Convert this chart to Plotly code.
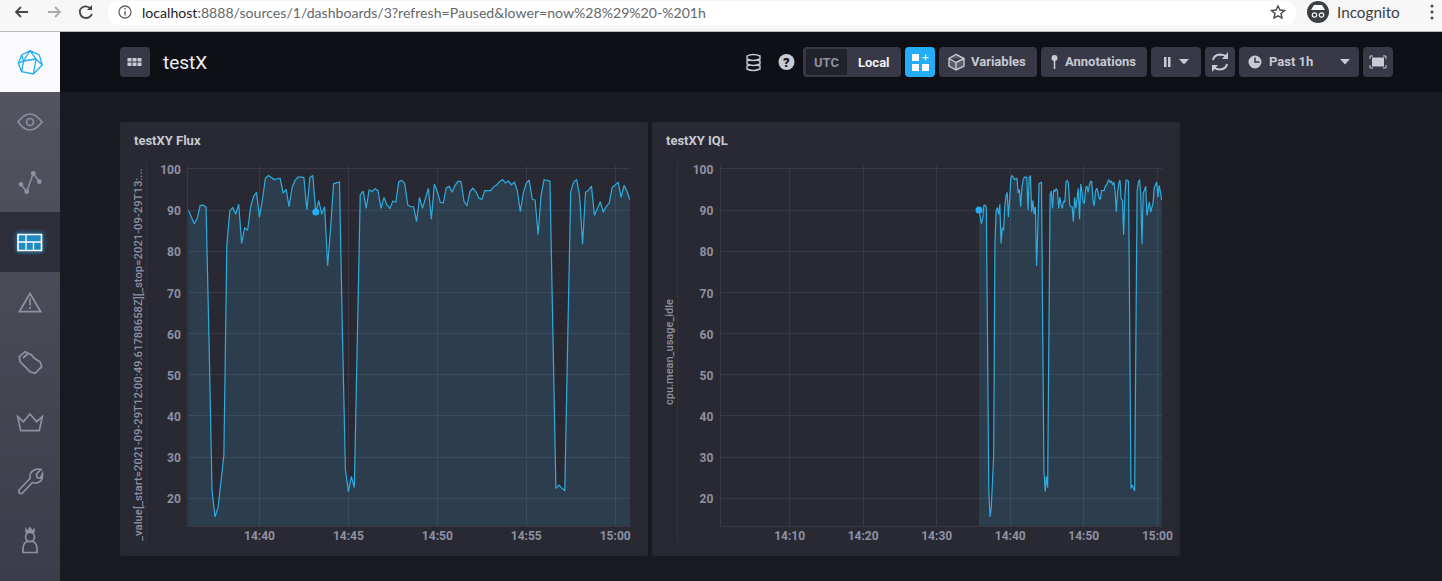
import re

import pandas as pd
import plotly.graph_objects as go

W, H = 1442, 581

# same cpu idle samples, the two panels only differ by a few seconds of time offset
cpu_idle = [
    90.0, 88.4, 86.7, 88.0, 91.1, 91.2, 90.7, 58.0, 22.0, 15.5,
    17.6, 24.0, 30.5, 81.5, 89.8, 90.6, 89.0, 91.4, 81.9, 85.7,
    85.1, 90.6, 93.3, 94.3, 88.3, 92.5, 97.7, 98.4, 98.0, 97.4,
    97.6, 97.7, 94.1, 95.0, 90.8, 95.5, 97.2, 98.0, 98.0, 97.9,
    90.0, 97.9, 98.4, 89.5, 92.3, 89.0, 90.8, 76.5, 85.6, 96.4,
    96.6, 96.8, 60.0, 27.0, 21.6, 25.3, 22.6, 56.0, 93.7, 94.6,
    90.4, 94.9, 94.5, 95.2, 94.7, 90.4, 93.1, 91.3, 90.4, 92.2,
    91.9, 96.9, 97.2, 96.5, 91.3, 90.8, 90.8, 87.2, 93.1, 90.4,
    92.7, 95.3, 87.8, 96.3, 94.5, 91.9, 91.7, 95.3, 95.8, 94.3,
    96.0, 97.0, 96.9, 92.2, 91.0, 94.5, 95.3, 94.5, 92.9, 92.6,
    94.7, 94.7, 94.7, 95.7, 96.1, 96.9, 97.4, 96.6, 97.1, 96.1,
    96.8, 94.7, 89.6, 94.1, 96.5, 97.3, 92.7, 92.4, 84.0, 93.6,
    97.3, 97.2, 97.0, 60.0, 22.4, 23.2, 22.6, 21.8, 59.0, 94.5,
    96.8, 97.4, 93.5, 81.7, 94.3, 94.8, 95.8, 88.7, 90.4, 92.0,
    89.5, 90.9, 91.7, 95.5, 96.1, 96.8, 93.1, 96.0, 94.5, 92.4,
]
flux_times = pd.date_range("2021-09-29 14:36:00", periods=len(cpu_idle), freq="10s")
iql_times = pd.date_range("2021-09-29 14:35:45", periods=len(cpu_idle), freq="10s")
flux_dot = 43
iql_dot = 0

flux_title = "testXY Flux"
iql_title = "testXY IQL"
flux_ylabel = "_value[_start=2021-09-29T12:00:49.61788658Z][_stop=2021-09-29T13:..."
iql_ylabel = "cpu.mean_usage_idle"

PANEL = "#292933"
GRID = "#383846"
TICK = "#8e91a1"
BLUE = "#22adf6"
BTN = "#383846"
LIGHT = "#c6cad3"
ICON = "#8e91a1"
FONT = "Roboto"


def fx(x):
    return x / W


def fy(y):
    return 1 - y / H


def to_paper(d):
    # path written in screen pixels, shapes want paper coordinates
    out = []
    is_x = True
    for tok in re.findall(r"[MLCQZ]|-?[\d.]+", d):
        if tok in "MLCQZ":
            out.append(tok)
            is_x = True
        else:
            out.append(f"{fx(float(tok)):.5f}" if is_x else f"{fy(float(tok)):.5f}")
            is_x = not is_x
    return " ".join(out)


shapes = []
notes = []


def path(d, fill="rgba(0,0,0,0)", line=None, width=1.5, layer="below"):
    shapes.append(dict(
        type="path", xref="paper", yref="paper", path=to_paper(d), fillcolor=fill, layer=layer,
        line=dict(color=line or "rgba(0,0,0,0)", width=width if line else 0),
    ))


def rect(x0, y0, x1, y1, fill):
    shapes.append(dict(
        type="rect", xref="paper", yref="paper", x0=fx(x0), x1=fx(x1), y0=fy(y0), y1=fy(y1),
        fillcolor=fill, line=dict(width=0), layer="below",
    ))


def rrect(x0, y0, x1, y1, fill, r=4):
    path(
        f"M {x0 + r} {y0} L {x1 - r} {y0} Q {x1} {y0} {x1} {y0 + r} L {x1} {y1 - r} Q {x1} {y1} {x1 - r} {y1} "
        f"L {x0 + r} {y1} Q {x0} {y1} {x0} {y1 - r} L {x0} {y0 + r} Q {x0} {y0} {x0 + r} {y0} Z",
        fill=fill,
    )


def circle(cx, cy, r, fill="rgba(0,0,0,0)", line=None, width=1.5):
    shapes.append(dict(
        type="circle", xref="paper", yref="paper", x0=fx(cx - r), x1=fx(cx + r), y0=fy(cy + r), y1=fy(cy - r),
        fillcolor=fill, layer="below", line=dict(color=line or "rgba(0,0,0,0)", width=width if line else 0),
    ))


def text(x, y, s, size=13, color=LIGHT, weight=400, anchor="left", angle=0, family=FONT):
    notes.append(dict(
        xref="paper", yref="paper", x=fx(x), y=fy(y), text=s, showarrow=False, xanchor=anchor, yanchor="middle",
        textangle=angle, font=dict(family=family, size=size, color=color, weight=weight),
        borderpad=0, borderwidth=0,
    ))


# page blocks
rect(0, 0, W, 31, "#f7f7f7")
rect(0, 31, W, 32, "#b9b9b9")
rect(60, 32, W, 92, "#0f0f16")
rect(0, 32, 60, 92, "#fafafc")
# sidebar gradient, shapes have no gradient fill so it is cut in thin strips
strips = 40
for k in range(strips):
    r = round(0x54 - (0x54 - 0x3c) * k / (strips - 1))
    b = round(0x60 - (0x60 - 0x4a) * k / (strips - 1))
    rect(0, 92 + k * 489 / strips, 60, 92 + (k + 1) * 489 / strips + 1, f"rgb({r},{r},{b})")
rect(0, 212, 60, 272, "#2e2e3a")

# panels
rrect(120, 122, 648, 556, PANEL, r=3)
rrect(652, 122, 1180, 556, PANEL, r=3)
rect(146, 162, 147, 542, "#32323e")
rect(677, 162, 678, 542, "#32323e")

# browser bar
rrect(108, 1, 1296, 25, "#ffffff", r=12)
path("M 28 12 L 16 12 M 21 7 L 16 12 L 21 17", line="#45484c", width=1.8)
path("M 48 12 L 60 12 M 55 7 L 60 12 L 55 17", line="#a9abad", width=1.8)
path("M 91 9 Q 87 5 83 7 Q 79 9 80 13 Q 81 18 86 18 Q 90 18 92 14", line="#45484c", width=1.8)
path("M 92 5 L 92 10 L 87 10 Z", fill="#45484c")
circle(125, 12, 6, line="#5f6368", width=1.3)
rect(124.3, 11, 125.7, 15.5, "#5f6368")
rect(124.3, 8, 125.7, 9.5, "#5f6368")
text(142, 12, '<span style="color:#202124">localhost</span>:8888/sources/1/dashboards/3?refresh=Paused&lower=now%28%29%20-%201h',
     size=14.1, color="#63666a", family="Lato")
path("M 1278 6 L 1280 10 L 1284.5 10.5 L 1281 13.5 L 1282 18 L 1278 15.8 L 1274 18 L 1275 13.5 L 1271.5 10.5 L 1276 10 Z",
     line="#45484c", width=1.4)
rrect(1304, 1, 1412, 24, "#f7f7f7", r=11)
circle(1318, 12, 11, fill="#3c4043")
path("M 1311 10 L 1325 10 L 1322 5 L 1314 5 Z", fill="#ffffff")
circle(1314.5, 15, 2.2, line="#ffffff", width=1.2)
circle(1321.5, 15, 2.2, line="#ffffff", width=1.2)
text(1337, 12, "Incognito", size=15.3, color="#3c4043", family="Lato")
for dot_y in (6, 12, 18):
    circle(1432, dot_y, 1.5, fill="#45484c")

# header controls
rrect(120, 47, 150, 77, BTN)
for bx in (129, 134, 139):
    rect(bx - 1.5, 58, bx + 2.5, 61.5, LIGHT)
    rect(bx - 1.5, 62.5, bx + 2.5, 66, LIGHT)
text(163, 62, "testX", size=19, color="#f0f1f4")

for cy in (67, 62, 57):
    path(f"M 747 {cy - 1} L 747 {cy + 2} Q 753 {cy + 5} 760 {cy + 2} L 760 {cy - 1} Q 753 {cy - 4} 747 {cy - 1} Z",
         line=LIGHT, width=1.4, fill="#0f0f16")
circle(786.5, 62, 8, fill=LIGHT)
text(786.5, 62, "?", size=13, color="#0f0f16", weight=900, anchor="center")

rrect(803, 47, 901, 77, BTN)
rrect(806, 49, 847, 75, "#22222b", r=2)
text(826, 62, "UTC", size=13, color=TICK, weight=700, anchor="center")
text(874, 62, "Local", size=13, color="#f0f1f4", weight=700, anchor="center")

rrect(905, 47, 935, 77, BLUE)
rect(912, 54, 919, 61, "#ffffff")
rect(912, 64, 919, 71, "#ffffff")
rect(922, 64, 929, 71, "#ffffff")
rect(925, 54.5, 926.2, 60.5, "#ffffff")
rect(922.5, 57, 928.5, 58.2, "#ffffff")

rrect(939, 47, 1037, 77, BTN)
path("M 956 54.5 L 964 58.5 L 964 66 L 956 70 L 949 66 L 949 58.5 Z M 949 58.5 L 956 62.5 L 964 58.5 M 956 62.5 L 956 70",
     fill="rgba(198,202,211,0.25)", line=LIGHT, width=1.4)
text(998, 61.5, "Variables", size=13, color=LIGHT, weight=700, anchor="center")

rrect(1041, 47, 1147, 77, BTN)
circle(1054.5, 58, 3, fill=LIGHT)
rect(1053.7, 60, 1055.3, 69, LIGHT)
text(1100.5, 61.5, "Annotations", size=13, color=LIGHT, weight=700, anchor="center")

rrect(1151, 47, 1201, 77, BTN)
rect(1164, 57, 1166.5, 67, LIGHT)
rect(1168, 57, 1170.5, 67, LIGHT)
path("M 1179 59 L 1189 59 L 1184 64.5 Z", fill=LIGHT)

rrect(1205, 47, 1235, 77, BTN)
path("M 1213 60 Q 1214 55 1220 54.5 Q 1224 54.5 1227 57", line=LIGHT, width=2)
path("M 1227 64 Q 1226 69 1220 69.5 Q 1216 69.5 1213 67", line=LIGHT, width=2)
path("M 1228 52 L 1228 59 L 1222 59 Z", fill=LIGHT)
path("M 1212 72 L 1212 65 L 1218 65 Z", fill=LIGHT)

rrect(1239, 47, 1359, 77, BTN)
circle(1255, 62, 6.5, fill=LIGHT)
path("M 1255 57.5 L 1255 62 L 1259.5 62", line=BTN, width=1.5)
text(1269, 61.5, "Past 1h", size=13, color=LIGHT, weight=700)
path("M 1340 59 L 1350 59 L 1345 64.5 Z", fill=LIGHT)

rrect(1363, 47, 1393, 77, BTN)
rect(1372, 57.5, 1384, 66.5, LIGHT)
path("M 1370 59 L 1370 56 L 1373 56 M 1383 56 L 1386 56 L 1386 59 M 1386 65 L 1386 68 L 1383 68 M 1373 68 L 1370 68 L 1370 65",
     line=LIGHT, width=1)

# nav icons
path("M 30 50.7 L 39.3 55 L 42.3 65 L 33.3 74 L 21.7 71.7 L 18.3 63.3 L 21.7 55 Z "
     "M 30 50.7 L 36 59 L 42.3 65 M 36 59 L 23.5 61 L 18.3 63.3 M 23.5 61 L 21.7 71.7 M 23.5 61 L 30 50.7 "
     "M 36 59 L 33.3 74 M 21.7 55 L 23.5 61", line=BLUE, width=1.3)
path("M 18 122 Q 30 106 42 122 Q 30 138 18 122 Z", line=ICON, width=1.6)
circle(30, 122, 3.5, line=ICON, width=1.6)
path("M 21 184.3 L 26.7 191.7 L 33.3 173.3 L 39.3 181.7", line=ICON, width=1.5)
for gx, gy in ((21, 184.3), (26.7, 191.7), (33.3, 173.3), (39.3, 181.7)):
    circle(gx, gy, 2.4, fill=ICON)

rrect(13, 229, 47, 255, "rgba(34,173,246,0.10)", r=8)
rrect(15.5, 231.5, 44, 253.5, "rgba(34,173,246,0.25)", r=5)
path("M 18 234.5 L 41.5 234.5 L 41.5 250.5 L 18 250.5 Z", fill="#1f8ac5", line="#ffffff", width=1.6)
path("M 18 242 L 41.5 242 M 26 234.5 L 26 250.5 M 33.5 242 L 33.5 250.5", line="#ffffff", width=1.3)

path("M 30 293.5 L 40.7 311.7 L 19.3 311.7 Z", line=ICON, width=1.7)
rect(29.2, 298.5, 30.8, 305.5, ICON)
rect(29.2, 307, 30.8, 309, ICON)
path("M 19.3 356.7 L 25 351.7 L 31.7 355 L 34 358 L 40 361.7 L 41.7 366.7 L 35 373.3 L 30 371.7 L 20 361.7 Z "
     "M 23 358 L 28 353.5", line=ICON, width=1.7)
path("M 17.7 416.7 L 23.3 421.7 L 30 414 L 36.7 421.7 L 42.3 416.7 L 39.3 430.7 L 20.7 430.7 Z", line=ICON, width=1.7)
path("M 19 490 L 30 478.5 Q 29 473 33.5 470.5 Q 37 468.5 41 469.5 L 36.5 474 L 37 477.5 L 40.5 478 L 42.5 473.5 "
     "Q 43 479 40 481.5 Q 36.5 484 32.5 482.5 L 22 493.5 Q 18 494 19 490 Z", line=ICON, width=1.7)
path("M 25 527 L 27.5 530 L 30 526.5 L 32.5 530 L 35 527 L 34.5 533 L 25.5 533 Z", fill=ICON)
circle(30, 537, 4.5, line=ICON, width=1.7)
path("M 23 552.5 L 37 552.5 L 37 548 Q 36.5 543 33 541.5 L 27 541.5 Q 23.5 543 23 548 Z", line=ICON, width=1.7)

# panel captions
text(134, 140.5, flux_title, size=13, color=LIGHT, weight=700)
text(666, 140.5, iql_title, size=13, color=LIGHT, weight=700)
text(138, 355, flux_ylabel, size=11.3, color=TICK, weight=500, anchor="center", angle=-90)
text(669, 352, iql_ylabel, size=11, color=TICK, weight=500, anchor="center", angle=-90)

fig = go.Figure()
for times, dot, xname, yname in (
    (flux_times, flux_dot, "x", "y"),
    (iql_times, iql_dot, "x2", "y2"),
):
    fig.add_trace(go.Scatter(
        x=times, y=cpu_idle, mode="lines", xaxis=xname, yaxis=yname, fill="tozeroy",
        fillcolor="rgba(60,172,226,0.16)", line=dict(color="rgba(45,185,240,0.9)", width=1.2), showlegend=False,
    ))
    fig.add_trace(go.Scatter(
        x=[times[dot]], y=[cpu_idle[dot]], mode="markers", xaxis=xname, yaxis=yname,
        marker=dict(color=BLUE, size=7), showlegend=False,
    ))

tick_font = dict(family=FONT, size=12, color=TICK, weight=700)
x_common = dict(
    type="date", tickformat="%H:%M", showgrid=True, gridcolor=GRID, gridwidth=1, tickfont=tick_font,
    showline=True, linecolor=GRID, linewidth=1, zeroline=False, ticks="outside", ticklen=0,
    ticklabelstandoff=-1, tickcolor="rgba(0,0,0,0)", automargin=False,
)
y_common = dict(
    range=[13.34, 100.7], dtick=10, tick0=0, showgrid=True, gridcolor=GRID, gridwidth=1, tickfont=tick_font,
    showline=True, linecolor=GRID, linewidth=1, zeroline=False, ticks="outside", ticklen=4, ticklabelshift=1,
    tickcolor="rgba(0,0,0,0)", domain=[fy(525.7), fy(166)], automargin=False,
)

fig.update_layout(
    width=W,
    height=H,
    margin=dict(l=0, r=0, t=0, b=0),
    paper_bgcolor="#1a1a21",
    plot_bgcolor="rgba(0,0,0,0)",
    showlegend=False,
    shapes=shapes,
    annotations=notes,
    xaxis=dict(x_common, domain=[fx(188.3), fx(630)], dtick=300000,
               range=["2021-09-29 14:36:00", "2021-09-29 15:00:50"]),
    yaxis=dict(y_common, anchor="x"),
    xaxis2=dict(x_common, domain=[fx(720.7), fx(1162)], dtick=600000, anchor="y2",
                range=["2021-09-29 14:00:38", "2021-09-29 15:00:38"]),
    yaxis2=dict(y_common, anchor="x2"),
)

fig.write_html("out.html", config={"displayModeBar": False},
               post_script="document.body.style.margin='0';document.body.style.background='#1a1a21';")
